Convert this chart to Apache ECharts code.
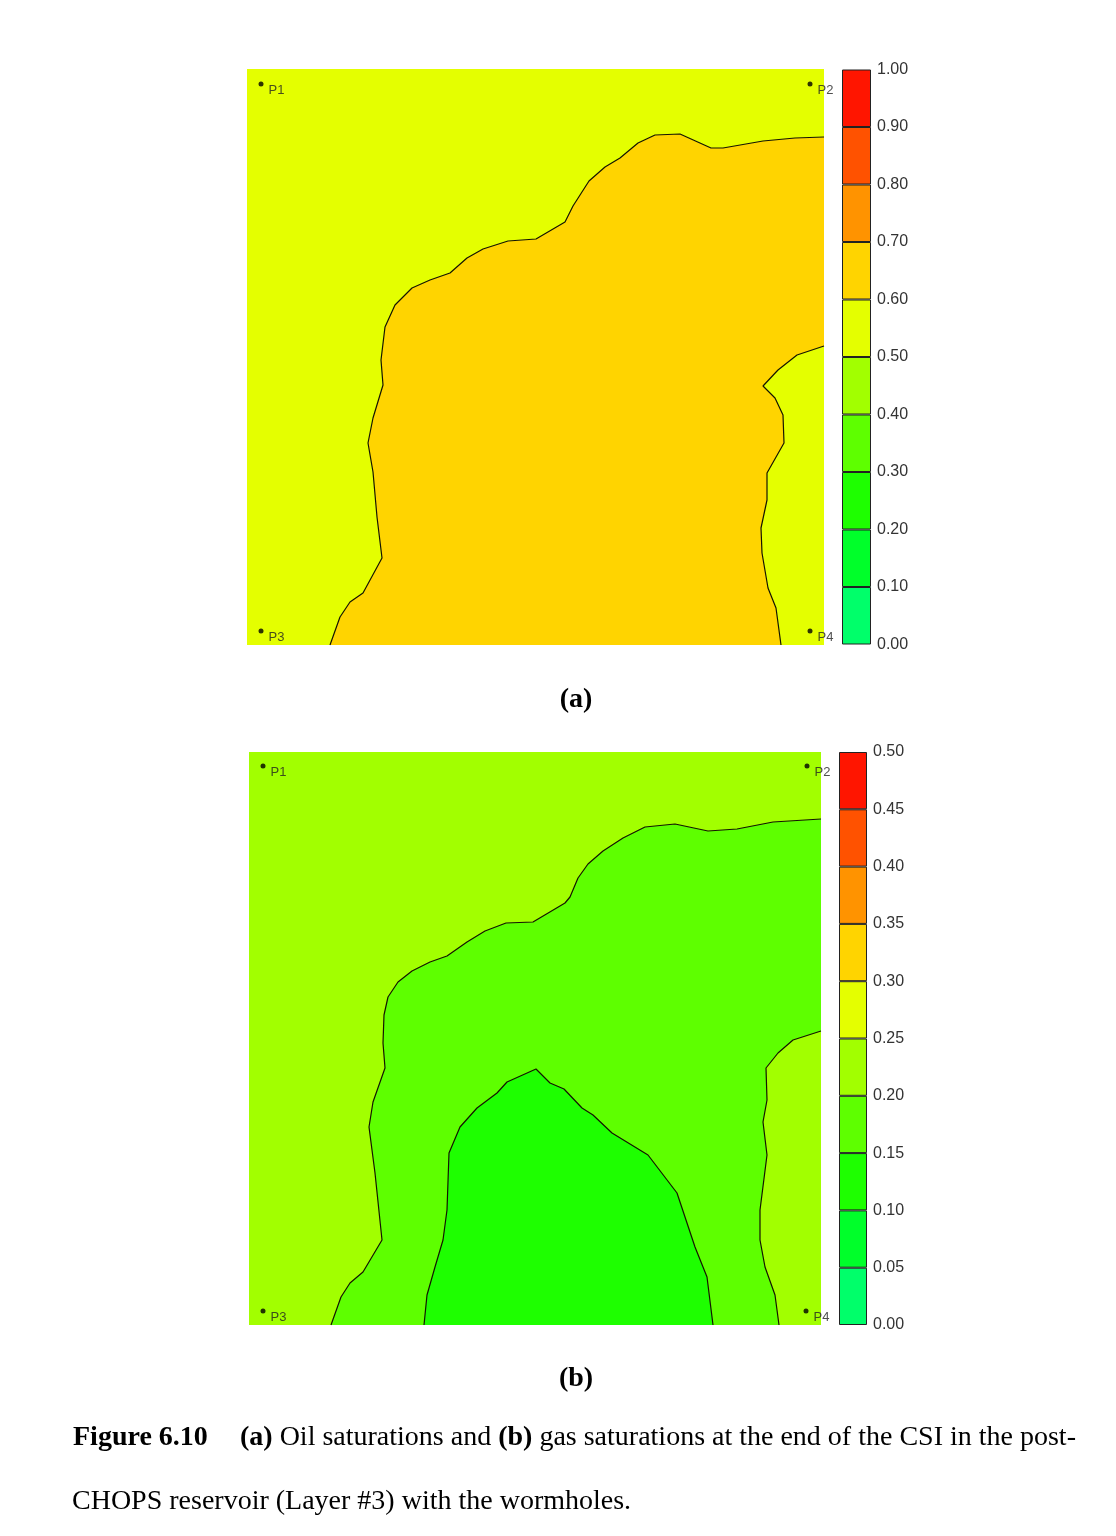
<!DOCTYPE html>
<html>
<head>
<meta charset="utf-8">
<title>Figure 6.10</title>
<script src="https://cdn.jsdelivr.net/npm/echarts@6/dist/echarts.min.js"></script>
<style>
    html, body { margin: 0; padding: 0; background: #fff; }
    #main { width: 1116px; height: 1536px; }
</style>
</head>
<body>
<div id="main"></div>
<script>
// colour scale, bottom to top
const scaleColors = ['#00FF6A', '#00FF2A', '#1EFF00', '#5EFF00', '#A2FF00', '#E4FF00', '#FFD400', '#FF9300', '#FF5200', '#FF1500'];

// legend levels
const levelsA = [0, 0.1, 0.2, 0.3, 0.4, 0.5, 0.6, 0.7, 0.8, 0.9, 1];
const levelsB = [0, 0.05, 0.1, 0.15, 0.2, 0.25, 0.3, 0.35, 0.4, 0.45, 0.5];

// map size in map units
const sizeA = [577, 576];
const sizeB = [572, 573];

// wells
const wellNames = ['P1', 'P2', 'P3', 'P4'];
const wellsA = [[14, 561], [563, 561], [14, 14], [563, 14]];
const wellsB = [[14, 559], [558, 559], [14, 14], [557, 14]];

// (a) oil saturation: 0.60 contour, upper part from the bottom edge to the right edge
const oilUpper = [[83, 0], [93, 28], [103, 43], [116, 52], [135, 87], [130, 128], [126, 173], [121, 202], [126, 227],
    [136, 260], [134, 285], [138, 318], [148, 340], [165, 357], [183, 365], [203, 372], [220, 387], [236, 396],
    [261, 404], [289, 406], [318, 423], [326, 439], [342, 464], [358, 478], [373, 487], [391, 502], [408, 510],
    [433, 511], [464, 497], [476, 497], [516, 504], [548, 507], [577, 508]];
// 0.60 contour, from the right edge to the bottom edge
const oilLower = [[577, 299], [550, 290], [531, 275], [516, 259], [528, 247], [536, 230], [537, 202], [520, 172],
    [520, 145], [514, 117], [515, 92], [521, 57], [529, 37], [534, 0]];

// (b) gas saturation: 0.20 contour
const gasUpper = [[82, 0], [92, 28], [101, 42], [114, 53], [133, 85], [126, 152], [120, 198], [124, 223], [136, 257],
    [134, 282], [135, 310], [139, 328], [149, 343], [163, 354], [181, 363], [198, 369], [218, 383], [236, 394],
    [257, 402], [284, 403], [316, 422], [321, 428], [329, 447], [339, 461], [354, 474], [374, 487], [396, 498],
    [426, 501], [459, 494], [488, 496], [524, 503], [572, 506]];
const gasLower = [[572, 294], [544, 285], [529, 272], [517, 257], [518, 225], [514, 203], [518, 170], [511, 115],
    [511, 85], [516, 58], [526, 30], [530, 0]];
// 0.15 contour
const gasInner = [[175, 0], [178, 30], [186, 58], [194, 85], [198, 115], [200, 172], [211, 198], [228, 217], [248, 232],
    [258, 243], [287, 256], [301, 242], [315, 236], [333, 217], [344, 210], [363, 192], [399, 170], [428, 132],
    [446, 78], [458, 48], [464, 0]];

// texts
const panelLabels = ['(a)', '(b)'];
const captionHead = 'Figure 6.10';
const captionLine1 = '{b|(a)} Oil saturations and {b|(b)} gas saturations at the end of the CSI in the post-';
const captionLine2 = 'CHOPS reservoir (Layer #3) with the wormholes.';

const serifFont = '"Liberation Serif", "Times New Roman", serif';
const sansFont = '"Liberation Sans", Arial, sans-serif';

// filled region between contours, goes through the axes of the given grid
function fillSeries(index, points, color) {
    return {
        type: 'custom',
        coordinateSystem: 'cartesian2d',
        xAxisIndex: index,
        yAxisIndex: index,
        silent: true,
        data: [[0, 0]],
        renderItem: function (params, api) {
            return {
                type: 'polygon',
                shape: { points: points.map(p => api.coord(p)) },
                style: { fill: color, stroke: null }
            };
        }
    };
}

function contourSeries(index, points) {
    return {
        type: 'line',
        xAxisIndex: index,
        yAxisIndex: index,
        showSymbol: false,
        silent: true,
        lineStyle: { color: '#141400', width: 1.2 },
        data: points
    };
}

function wellSeries(index, wells) {
    return {
        type: 'scatter',
        xAxisIndex: index,
        yAxisIndex: index,
        symbolSize: 5,
        silent: true,
        itemStyle: { color: '#000' },
        label: {
            show: true,
            position: 'right',
            distance: 5,
            offset: [0, 6],
            formatter: '{b}',
            color: '#222',
            fontFamily: sansFont,
            fontSize: 13
        },
        data: wells.map((w, i) => ({ name: wellNames[i], value: w }))
    };
}

// legend bar: one stacked segment per colour
function scaleSeries(index, levels) {
    return scaleColors.map((color, i) => ({
        type: 'bar',
        xAxisIndex: index,
        yAxisIndex: index,
        stack: 'scale' + index,
        barWidth: '100%',
        silent: true,
        itemStyle: { color: color, borderColor: '#222', borderWidth: 1 },
        data: [levels[i + 1] - levels[i]]
    }));
}

function mapAxes(size) {
    return {
        x: { type: 'value', show: false, min: 0, max: size[0] },
        y: { type: 'value', show: false, min: 0, max: size[1] }
    };
}

function scaleAxes(gridIndex, levels) {
    return {
        x: { type: 'category', show: false, gridIndex: gridIndex, data: [''] },
        y: {
            type: 'value',
            gridIndex: gridIndex,
            position: 'right',
            min: 0,
            max: levels[levels.length - 1],
            interval: levels[1],
            axisLine: { show: false },
            axisTick: { show: false },
            splitLine: { show: false },
            axisLabel: {
                margin: 6,
                color: '#333',
                fontFamily: sansFont,
                fontSize: 16,
                formatter: v => v.toFixed(2)
            }
        }
    };
}

const axesA = mapAxes(sizeA);
const axesB = mapAxes(sizeB);
const axesBarA = scaleAxes(1, levelsA);
const axesBarB = scaleAxes(3, levelsB);
axesB.x.gridIndex = 2;
axesB.y.gridIndex = 2;

const option = {
    animation: false,
    backgroundColor: '#fff',
    grid: [
        { left: 247, top: 69, width: 577, height: 576, show: true, borderWidth: 0, backgroundColor: scaleColors[5] },
        { left: 842, top: 69.5, width: 29, height: 575 },
        { left: 249, top: 752, width: 572, height: 573, show: true, borderWidth: 0, backgroundColor: scaleColors[4] },
        { left: 839, top: 752, width: 28, height: 573 }
    ],
    xAxis: [axesA.x, axesBarA.x, axesB.x, axesBarB.x],
    yAxis: [axesA.y, axesBarA.y, axesB.y, axesBarB.y],
    series: [
        fillSeries(0, oilUpper.concat(oilLower), scaleColors[6]),
        contourSeries(0, oilUpper),
        contourSeries(0, oilLower),
        wellSeries(0, wellsA),
        ...scaleSeries(1, levelsA),
        fillSeries(2, gasUpper.concat(gasLower), scaleColors[3]),
        fillSeries(2, gasInner, scaleColors[2]),
        contourSeries(2, gasUpper),
        contourSeries(2, gasLower),
        contourSeries(2, gasInner),
        wellSeries(2, wellsB),
        ...scaleSeries(3, levelsB)
    ],
    graphic: [
        {
            type: 'text', x: 576, y: 700,
            style: { text: panelLabels[0], font: 'bold 28px ' + serifFont, fill: '#000', textAlign: 'center', textVerticalAlign: 'middle' }
        },
        {
            type: 'text', x: 576, y: 1379,
            style: { text: panelLabels[1], font: 'bold 28px ' + serifFont, fill: '#000', textAlign: 'center', textVerticalAlign: 'middle' }
        },
        {
            type: 'text', x: 73, y: 1438,
            style: { text: captionHead, font: 'bold 28px ' + serifFont, fill: '#000', textVerticalAlign: 'middle' }
        },
        {
            type: 'text', x: 240, y: 1438,
            style: {
                text: captionLine1,
                font: '28px ' + serifFont,
                fill: '#000',
                textVerticalAlign: 'middle',
                rich: { b: { font: 'bold 28px ' + serifFont, fill: '#000' } }
            }
        },
        {
            type: 'text', x: 72, y: 1502,
            style: { text: captionLine2, font: '28px ' + serifFont, fill: '#000', textVerticalAlign: 'middle' }
        }
    ]
};

const myChart = echarts.init(document.getElementById('main'));
myChart.setOption(option);
</script>
</body>
</html>
